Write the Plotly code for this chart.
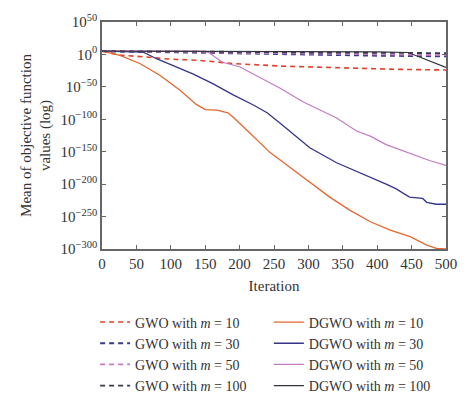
import plotly.graph_objects as go

# iteration / log10 exponent pairs
gwo10_it = [0, 25, 65, 95, 140, 190, 260, 350, 430, 500]
gwo10_exp = [5, -1, -4, -7, -9, -14, -18, -21, -23, -24]

gwo30_it = [0, 100, 200, 300, 400, 500]
gwo30_exp = [5, 3, 1, -1, -2, -3]

gwo50_it = [0, 100, 200, 300, 400, 500]
gwo50_exp = [5, 4, 2, 1, 0, -1]

gwo100_it = [0, 100, 200, 300, 400, 500]
gwo100_exp = [5, 5, 4, 3, 3, 2]

dgwo10_it = [0, 26, 55, 84, 113, 137, 150, 167, 183, 190, 205, 220, 244, 273, 302,
             331, 360, 390, 419, 448, 472, 486, 500]
dgwo10_exp = [5, -1.5, -14, -32, -55, -77, -85, -86, -90, -96, -111, -126, -151, -174,
              -197, -220, -240, -258, -271, -281, -294, -299, -300]

dgwo30_it = [0, 40, 60, 80, 103, 132, 161, 190, 220, 240, 259, 273, 302, 341, 379,
             413, 427, 447, 466, 472, 486, 500]
dgwo30_exp = [5, 4.5, 3.5, -7, -17, -30, -45, -62, -78, -90, -106, -118, -144, -167,
              -184, -200, -207, -220, -222, -228, -231, -231]

dgwo50_it = [0, 140, 155, 175, 200, 229, 259, 292, 341, 370, 390, 413, 447, 477, 500]
dgwo50_exp = [5, 5, 3, -12, -19, -35, -52, -73, -98, -118, -126, -139, -152, -164, -171]

dgwo100_it = [0, 200, 400, 445, 500]
dgwo100_exp = [5, 5, 4, 3, -20]

y_tick_exps = [50, 0, -50, -100, -150, -200, -250, -300]
x_ticks = [0, 50, 100, 150, 200, 250, 300, 350, 400, 450, 500]

FONT = "Liberation Serif"


def pw(exps):
    return [10.0 ** e for e in exps]


def label(e):
    s = str(e).replace("-", "\u2212")
    return "10<sup>" + s + "</sup>"


series = [
    ("GWO with <i>m</i> = 10", gwo10_it, gwo10_exp, "#E0402A", "5px,4px", 1.6, "legend"),
    ("GWO with <i>m</i> = 30", gwo30_it, gwo30_exp, "#3A3A8E", "5px,4px", 1.8, "legend"),
    ("GWO with <i>m</i> = 50", gwo50_it, gwo50_exp, "#C87AC4", "5px,4px", 1.8, "legend"),
    ("GWO with <i>m</i> = 100", gwo100_it, gwo100_exp, "#3A3A4A", "5px,4px", 1.8, "legend"),
    ("DGWO with <i>m</i> = 10", dgwo10_it, dgwo10_exp, "#E2672F", "solid", 1.3, "legend2"),
    ("DGWO with <i>m</i> = 30", dgwo30_it, dgwo30_exp, "#34348A", "solid", 1.3, "legend2"),
    ("DGWO with <i>m</i> = 50", dgwo50_it, dgwo50_exp, "#C07CC0", "solid", 1.2, "legend2"),
    ("DGWO with <i>m</i> = 100", dgwo100_it, dgwo100_exp, "#333340", "solid", 1.2, "legend2"),
]

fig = go.Figure()
for name, xs, es, col, dash, w, lg in series:
    fig.add_trace(go.Scatter(x=xs, y=pw(es), mode="lines", name=name, legend=lg,
                             line=dict(color=col, dash=dash, width=w)))

axis_common = dict(showline=True, linecolor="#666666", linewidth=1.5, mirror="ticks",
                   ticks="inside", ticklen=4, tickcolor="#666666", showgrid=False,
                   zeroline=False, tickfont=dict(family=FONT, size=15, color="#333333"))

fig.update_xaxes(range=[0, 500], tickvals=x_ticks,
                 title=dict(text="Iteration", font=dict(family=FONT, size=15, color="#333333"),
                            standoff=10),
                 **axis_common)
fig.update_yaxes(type="log", range=[-300, 50], tickvals=pw(y_tick_exps),
                 ticktext=[label(e) for e in y_tick_exps],
                 title=dict(text="Mean of objective function<br>values (log)",
                            font=dict(family=FONT, size=15, color="#333333"), standoff=6),
                 **axis_common)

legend_common = dict(orientation="v", yref="container", yanchor="top", y=0.247,
                     xanchor="left",
                     font=dict(family=FONT, size=14, color="#333333"),
                     itemwidth=30, tracegroupgap=0, bgcolor="rgba(0,0,0,0)")

fig.update_layout(
    width=474, height=407,
    margin=dict(l=102, r=28, t=19, b=158),
    plot_bgcolor="white", paper_bgcolor="white",
    font=dict(family=FONT, size=15, color="#333333"),
    showlegend=True,
    legend=dict(x=-0.02, **legend_common),
    legend2=dict(x=0.485, **legend_common),
)

fig.write_html("out.html")
